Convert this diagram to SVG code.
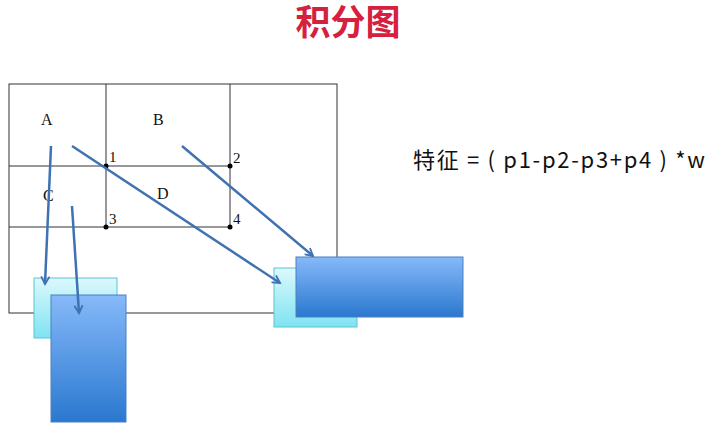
<svg xmlns="http://www.w3.org/2000/svg" width="719" height="428" viewBox="0 0 719 428">
<defs>
<linearGradient id="gCyan" x1="0" y1="0" x2="0" y2="1">
<stop offset="0" stop-color="#dcf9fc"/>
<stop offset="1" stop-color="#7fe3f1"/>
</linearGradient>
<linearGradient id="gBlue" x1="0" y1="0" x2="0" y2="1">
<stop offset="0" stop-color="#86b9f9"/>
<stop offset="1" stop-color="#2a78cf"/>
</linearGradient>
<marker id="ah" viewBox="0 0 12 12" refX="10" refY="6" markerWidth="4" markerHeight="4" orient="auto" markerUnits="strokeWidth">
<path d="M1,1 L10,6 L1,11" fill="none" stroke="#3f72b2" stroke-width="2.2" stroke-linejoin="miter"/>
</marker>
<style>
.grid{fill:none;stroke:#333;stroke-width:1}
.lbl{font-family:"Liberation Serif",serif;font-size:16px;fill:#111}
.num{font-family:"Liberation Serif",serif;font-size:15px;fill:#111}
.cyan{fill:url(#gCyan);stroke:#5cc3d4;stroke-width:1}
.blue{fill:url(#gBlue);stroke:#4a80c0;stroke-width:1}
.arr{fill:none;stroke:#3f72b2;stroke-width:2.5;marker-end:url(#ah)}
</style>
</defs>
<rect width="719" height="428" fill="#ffffff"/>
<text x="348" y="35" text-anchor="middle" font-family="Noto Sans CJK SC, sans-serif" font-weight="bold" font-size="35" fill="#d5203e">积分图</text>
<g id="grid">
<rect class="grid" x="9" y="84" width="328" height="229"/>
<line class="grid" x1="106" y1="84" x2="106" y2="227"/>
<line class="grid" x1="230" y1="84" x2="230" y2="227"/>
<line class="grid" x1="9" y1="166" x2="230" y2="166"/>
<line class="grid" x1="9" y1="227" x2="230" y2="227"/>
<circle cx="106" cy="166" r="2.5" fill="#000"/>
<circle cx="230" cy="166" r="2.5" fill="#000"/>
<circle cx="106" cy="227" r="2.5" fill="#000"/>
<circle cx="230" cy="227" r="2.5" fill="#000"/>
<text class="lbl" x="41" y="125">A</text>
<text class="lbl" x="153" y="125">B</text>
<text class="lbl" x="43" y="201">C</text>
<text class="lbl" x="157" y="199">D</text>
<text class="num" x="109" y="162">1</text>
<text class="num" x="233" y="163">2</text>
<text class="num" x="109" y="224">3</text>
<text class="num" x="233" y="224">4</text>
</g>
<g id="box-cyan-1"><rect class="cyan" x="34" y="278" width="83" height="60"/></g>
<g id="box-cyan-2"><rect class="cyan" x="274" y="268" width="83" height="59"/></g>
<g id="box-blue-1"><rect class="blue" x="51" y="295" width="75" height="127"/></g>
<g id="box-blue-2"><rect class="blue" x="296" y="257" width="167" height="60"/></g>
<g id="connectors">
<line class="arr" x1="51" y1="146" x2="45" y2="284"/>
<line class="arr" x1="72" y1="206" x2="79" y2="313"/>
<line class="arr" x1="72" y1="146" x2="280" y2="283"/>
<line class="arr" x1="182" y1="146" x2="313" y2="256"/>
</g>
<text x="413" y="168" font-family="Noto Sans CJK SC, sans-serif" font-size="22" fill="#111" textLength="292" lengthAdjust="spacing">特征 = ( p1-p2-p3+p4 ) *w</text>
</svg>
